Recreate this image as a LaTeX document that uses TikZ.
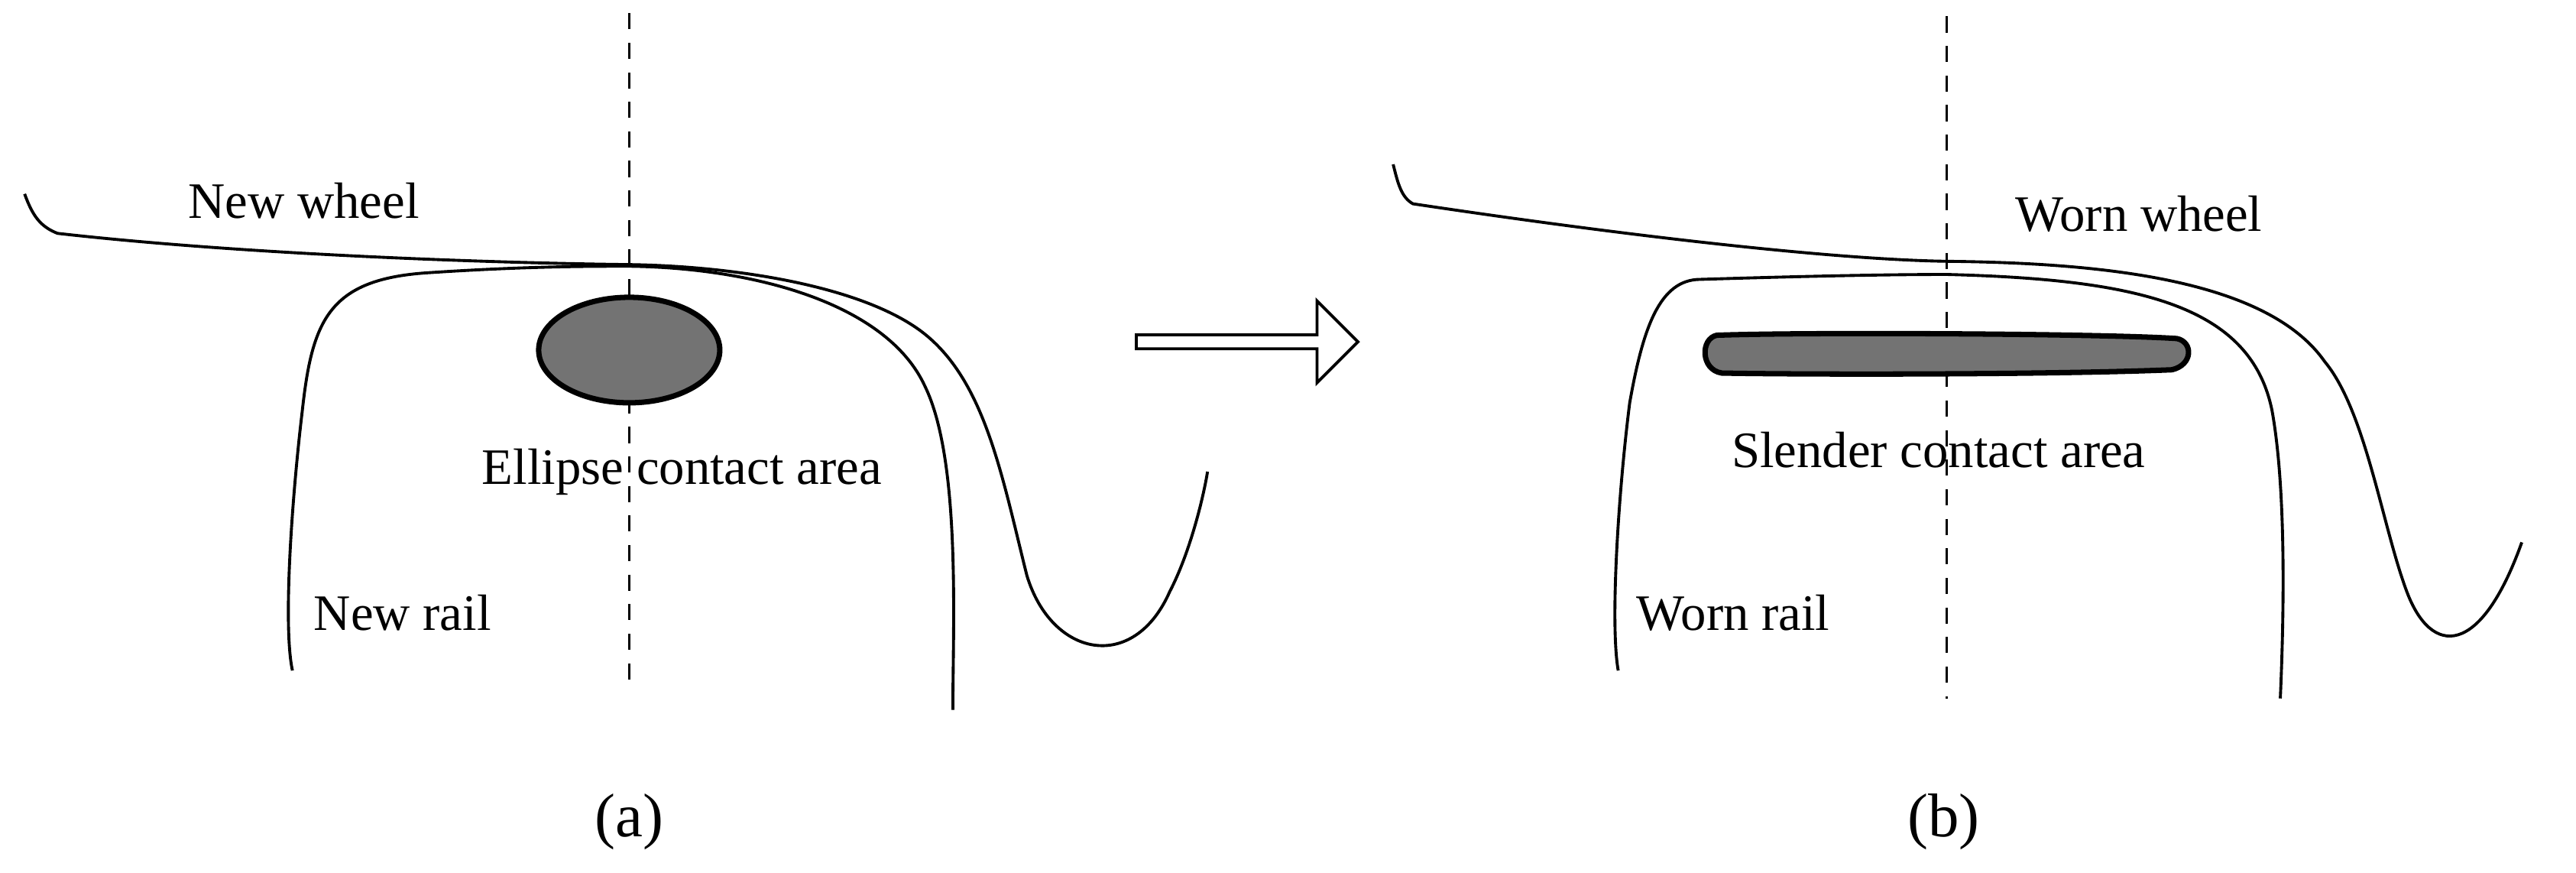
\documentclass[tikz,border=0pt]{standalone}
\usepackage{fontspec}
\setmainfont{Liberation Serif}
\usetikzlibrary{shapes.arrows,shapes.geometric}
\begin{document}
\begin{tikzpicture}[x=0.0215cm,y=-0.0215cm,
  prof/.style={line width=1.1pt},
  axis/.style={line width=0.9pt,dash pattern=on 6pt off 5pt},
  lbl/.style={font=\fontsize{19}{22}\selectfont,inner sep=0pt},
  sublbl/.style={font=\fontsize{23}{26}\selectfont,inner sep=0pt},
  patch/.style={draw=black,line width=2pt,fill=black!55}]
\useasboundingbox (0,0) rectangle (1568,531);
% ---- (a)
\draw[axis] (383,8) -- (383,418);
\draw[prof] (15,118) .. controls (20,132) and (25,138) .. (35,142)
  .. controls (150,155) and (300,160) .. (383,161)
  .. controls (450,162) and (530,175) .. (565,205)
  .. controls (600,235) and (610,290) .. (625,350)
  .. controls (640,400) and (690,410) .. (712,360)
  .. controls (725,335) and (733,300) .. (735,287);
\draw[prof] (178,408) .. controls (172,380) and (178,300) .. (184,250)
  .. controls (190,195) and (200,170) .. (260,166)
  .. controls (320,162) and (360,162) .. (383,162)
  .. controls (460,163) and (540,185) .. (563,235)
  .. controls (585,280) and (580,380) .. (580,432);
\node[patch,ellipse,minimum width=2.37cm,minimum height=1.38cm,inner sep=0pt] (ea) at (383,213) {};
\node[lbl] (ewheel) at (185,122) {New wheel};
\node[lbl] (erail) at (245,373) {New rail};
\node[lbl] (earea) at (415,287) {Ellipse contact area};
\node[sublbl] (la) at (383,500) {(a)};
% ---- arrow
\node[single arrow,draw,line width=1.1pt,minimum height=2.9cm,minimum width=1.07cm,
  single arrow head extend=0.35cm,inner sep=1.5pt] (arr) at (757,208) {};
% ---- (b)
\draw[axis] (1185,10) -- (1185,425);
\draw[prof] (848,100) .. controls (851,112) and (853,120) .. (860,124)
  .. controls (1000,145) and (1120,158) .. (1185,159)
  .. controls (1280,160) and (1380,170) .. (1415,220)
  .. controls (1440,250) and (1450,320) .. (1465,360)
  .. controls (1480,400) and (1510,400) .. (1535,330);
\draw[prof] (985,408) .. controls (980,380) and (985,300) .. (992,245)
  .. controls (1000,200) and (1010,170) .. (1035,170)
  .. controls (1100,168) and (1150,167) .. (1185,167)
  .. controls (1300,170) and (1370,185) .. (1383,250)
  .. controls (1392,300) and (1390,380) .. (1388,425);
\draw[patch] (1045,204) .. controls (1100,202) and (1280,203) .. (1325,206)
  .. controls (1335,208) and (1335,222) .. (1322,225)
  .. controls (1250,228) and (1100,228) .. (1048,227)
  .. controls (1035,225) and (1035,206) .. (1045,204) -- cycle;
\node[lbl] (wwheel) at (1302,130) {Worn wheel};
\node[lbl] (wrail) at (1055,373) {Worn rail};
\node[lbl] (warea) at (1180,274) {Slender contact area};
\node[sublbl] (lb) at (1183,500) {(b)};
\end{tikzpicture}
\end{document}
